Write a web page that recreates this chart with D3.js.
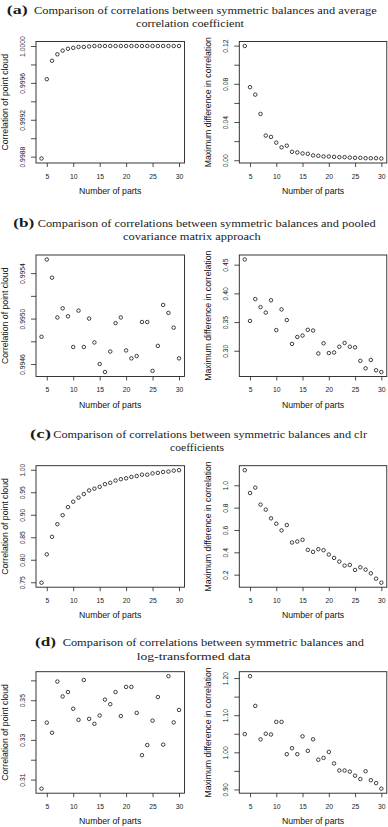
<!DOCTYPE html>
<html lang="en">
<head>
    <meta charset="UTF-8">
    <title>Comparison of correlations between symmetric balances</title>
    <script src="https://d3js.org/d3.v7.min.js"></script>
    <style>
        body { margin: 0; background: #fff; }
        svg { display: block; }
        .tick text { font-family: "Liberation Sans", Arial, sans-serif; font-size: 6.8px; fill: #222; }
        .axis-title { font-family: "Liberation Sans", Arial, sans-serif; font-size: 8.7px; fill: #111; }
        .title { font-family: "Liberation Serif", "Times New Roman", serif; fill: #1a1a1a; }
    </style>
</head>
<body>
    <svg id="chart" width="388" height="827"></svg>

    <script>
        // number of parts (x axis, same for every panel)
        let parts = [4, 5, 6, 7, 8, 9, 10, 11, 12, 13, 14, 15, 16, 17, 18, 19, 20, 21, 22, 23, 24, 25, 26, 27, 28, 29, 30];
        let xTicks = [5, 10, 15, 20, 25, 30];

        // (a) average correlation coefficient
        let corrAvg = [0.99878, 0.99964, 0.99984, 0.99991, 0.99995, 0.99997, 0.99998, 0.99999, 0.99999, 0.999995, 1.0, 1.0, 1.0, 1.0, 1.0, 1.0, 1.0, 1.0, 1.0, 1.0, 1.0, 1.0, 1.0, 1.0, 1.0, 1.0, 1.0];
        let maxDiffAvg = [0.1196, 0.0765, 0.0687, 0.0485, 0.0258, 0.0244, 0.0184, 0.0135, 0.0152, 0.0088, 0.0081, 0.0071, 0.0067, 0.0050, 0.0046, 0.0039, 0.0039, 0.0035, 0.0032, 0.0032, 0.0028, 0.0025, 0.0025, 0.0021, 0.0021, 0.0021, 0.0018];

        // (b) pooled covariance matrix approach
        let corrPooled = [0.99484, 0.99552, 0.99536, 0.99501, 0.99509, 0.99502, 0.99475, 0.99507, 0.99475, 0.99500, 0.99479, 0.99460, 0.99453, 0.99471, 0.99496, 0.99501, 0.99472, 0.99465, 0.99467, 0.99497, 0.99497, 0.99454, 0.99476, 0.99512, 0.99505, 0.99492, 0.99465];
        let maxDiffPooled = [0.459, 0.352, 0.390, 0.376, 0.3665, 0.388, 0.336, 0.372, 0.3535, 0.312, 0.324, 0.3265, 0.3365, 0.3353, 0.2953, 0.313, 0.296, 0.297, 0.307, 0.3136, 0.307, 0.306, 0.2824, 0.2694, 0.284, 0.266, 0.263];

        // (c) clr coefficients
        let corrClr = [0.749, 0.812, 0.851, 0.879, 0.899, 0.917, 0.929, 0.938, 0.946, 0.954, 0.958, 0.962, 0.968, 0.971, 0.976, 0.979, 0.981, 0.984, 0.986, 0.989, 0.989, 0.992, 0.993, 0.995, 0.996, 0.998, 0.999];
        let maxDiffClr = [1.135, 0.931, 0.979, 0.827, 0.782, 0.704, 0.656, 0.596, 0.644, 0.488, 0.497, 0.512, 0.422, 0.404, 0.428, 0.419, 0.380, 0.350, 0.317, 0.281, 0.287, 0.242, 0.266, 0.245, 0.212, 0.164, 0.128];

        // (d) log-transformed data
        let corrLog = [0.3054, 0.3387, 0.3336, 0.3594, 0.3519, 0.3541, 0.3457, 0.3401, 0.3602, 0.3406, 0.3381, 0.3423, 0.3503, 0.3480, 0.3541, 0.3420, 0.3567, 0.3567, 0.3436, 0.3223, 0.3274, 0.3397, 0.3516, 0.3276, 0.3621, 0.3388, 0.3451];
        let maxDiffLog = [1.049, 1.205, 1.125, 1.035, 1.050, 1.048, 1.082, 1.082, 0.995, 1.011, 0.995, 1.043, 1.004, 1.035, 0.980, 0.985, 1.001, 0.970, 0.951, 0.951, 0.948, 0.937, 0.928, 0.949, 0.925, 0.917, 0.902];

        // y tick marks and the ones that carry a label (R drops overlapping labels)
        let ticksCorrAvg = [0.9988, 0.9990, 0.9992, 0.9994, 0.9996, 0.9998, 1.0000];
        let labelsCorrAvg = [0.9988, 0.9992, 0.9996, 1.0000];
        let ticksDiffAvg = [0.00, 0.02, 0.04, 0.06, 0.08, 0.10, 0.12];
        let labelsDiffAvg = [0.00, 0.04, 0.08, 0.12];
        let ticksCorrPooled = [0.9946, 0.9948, 0.9950, 0.9952, 0.9954];
        let labelsCorrPooled = [0.9946, 0.9950, 0.9954];
        let ticksDiffPooled = [0.30, 0.35, 0.40, 0.45];
        let ticksCorrClr = [0.75, 0.80, 0.85, 0.90, 0.95, 1.00];
        let ticksDiffClr = [0.2, 0.4, 0.6, 0.8, 1.0];
        let ticksCorrLog = [0.31, 0.32, 0.33, 0.34, 0.35, 0.36];
        let labelsCorrLog = [0.31, 0.33, 0.35];
        let ticksDiffLog = [0.90, 0.95, 1.00, 1.05, 1.10, 1.15, 1.20];
        let labelsDiffLog = [0.90, 1.00, 1.10, 1.20];

        let labels = ["(a)", "(b)", "(c)", "(d)"];
        let titleLine1 = [
            "Comparison of correlations between symmetric balances and average",
            "Comparison of correlations between symmetric balances and pooled",
            "Comparison of correlations between symmetric balances and clr",
            "Comparison of correlations between symmetric balances and"
        ];
        let titleLine2 = ["correlation coefficient", "covariance matrix approach", "coefficients", "log-transformed data"];

        let rows = [
            { left: corrAvg, right: maxDiffAvg, lt: ticksCorrAvg, ll: labelsCorrAvg, lf: ".4f", rt: ticksDiffAvg, rl: labelsDiffAvg, rf: ".2f" },
            { left: corrPooled, right: maxDiffPooled, lt: ticksCorrPooled, ll: labelsCorrPooled, lf: ".4f", rt: ticksDiffPooled, rl: ticksDiffPooled, rf: ".2f" },
            { left: corrClr, right: maxDiffClr, lt: ticksCorrClr, ll: ticksCorrClr, lf: ".2f", rt: ticksDiffClr, rl: ticksDiffClr, rf: ".1f" },
            { left: corrLog, right: maxDiffLog, lt: ticksCorrLog, ll: labelsCorrLog, lf: ".2f", rt: ticksDiffLog, rl: labelsDiffLog, rf: ".2f" }
        ];

        // layout of each row (pixels)
        let layout = [
            { top: 41.5, b1: 14, b2: 27.3, lx: 6.7, m0: 34, m1: 376.7, s0: 136, s1: 244 },
            { top: 255, b1: 226.7, b2: 240, lx: 13.3, m0: 37.7, m1: 375.7, s0: 123, s1: 260.7 },
            { top: 465.7, b1: 437.5, b2: 450.7, lx: 30, m0: 53.3, m1: 367, s0: 170, s1: 224 },
            { top: 671.7, b1: 646, b2: 659.5, lx: 35, m0: 62.7, m1: 364, s0: 136.7, s1: 250.7 }
        ];
        let boxH = 121.5;
        let cols = [{ x0: 36, x1: 184.5, title: "Correlation of point cloud" },
                    { x0: 239.3, x1: 386.8, title: "Maximum difference in correlation" }];

        let svg = d3.select("#chart");

        // R style axis range: data range widened by 4% each side
        function padded(ext) {
            let d = (ext[1] - ext[0]) * 0.04;
            return [ext[0] - d, ext[1] + d];
        }

        rows.forEach((row, i) => {
            let L = layout[i];
            let bottom = L.top + boxH;

            // title
            svg.append("text").attr("class", "title")
                .attr("x", L.lx).attr("y", L.b1)
                .attr("font-size", 13.5).attr("font-weight", "bold")
                .attr("textLength", 21).attr("lengthAdjust", "spacingAndGlyphs")
                .text(labels[i]);
            svg.append("text").attr("class", "title")
                .attr("x", L.m0).attr("y", L.b1)
                .attr("font-size", 11.2)
                .attr("textLength", L.m1 - L.m0).attr("lengthAdjust", "spacingAndGlyphs")
                .text(titleLine1[i]);
            svg.append("text").attr("class", "title")
                .attr("x", L.s0).attr("y", L.b2)
                .attr("font-size", 11.2)
                .attr("textLength", L.s1 - L.s0).attr("lengthAdjust", "spacingAndGlyphs")
                .text(titleLine2[i]);

            let sides = [
                { values: row.left, ticks: row.lt, labeled: row.ll, fmt: d3.format(row.lf) },
                { values: row.right, ticks: row.rt, labeled: row.rl, fmt: d3.format(row.rf) }
            ];

            sides.forEach((s, j) => {
                let c = cols[j];
                let x = d3.scaleLinear().domain(padded(d3.extent(parts))).range([c.x0, c.x1]);
                let y = d3.scaleLinear().domain(padded(d3.extent(s.values))).range([bottom, L.top]);

                let g = svg.append("g");

                // x axis
                let xa = g.append("g")
                    .attr("transform", `translate(0,${bottom})`)
                    .call(d3.axisBottom(x).tickValues(xTicks).tickSize(4).tickPadding(4).tickSizeOuter(0));
                xa.select(".domain").remove();
                xa.selectAll("line").attr("stroke", "#222").attr("stroke-width", 0.8);
                xa.selectAll("text").attr("dy", 0).attr("y", 15.5);

                // y axis
                let ya = g.append("g")
                    .attr("transform", `translate(${c.x0},0)`)
                    .call(d3.axisLeft(y).tickValues(s.ticks).tickSize(5).tickSizeOuter(0)
                        .tickFormat(v => s.labeled.some(l => Math.abs(l - v) < 1e-9) ? s.fmt(v) : ""));
                ya.select(".domain").remove();
                ya.selectAll("line").attr("stroke", "#222").attr("stroke-width", 0.8);
                ya.selectAll("text")
                    .attr("x", 0).attr("y", 0).attr("dy", 0)
                    .attr("text-anchor", "middle")
                    .attr("transform", "translate(-11,0) rotate(-90)");

                // plot box
                g.append("rect")
                    .attr("x", c.x0).attr("y", L.top)
                    .attr("width", c.x1 - c.x0).attr("height", boxH)
                    .attr("fill", "none").attr("stroke", "#222").attr("stroke-width", 0.9);

                // points
                g.selectAll(".pt")
                    .data(s.values)
                    .enter().append("circle")
                    .attr("class", "pt")
                    .attr("cx", (d, k) => x(parts[k]))
                    .attr("cy", d => y(d))
                    .attr("r", 1.75)
                    .attr("fill", "none")
                    .attr("stroke", "#111")
                    .attr("stroke-width", 0.8);

                // axis titles
                g.append("text").attr("class", "axis-title")
                    .attr("x", (c.x0 + c.x1) / 2).attr("y", bottom + 31)
                    .attr("text-anchor", "middle")
                    .text("Number of parts");
                g.append("text").attr("class", "axis-title")
                    .attr("transform", `translate(${c.x0 - 28.5},${(L.top + bottom) / 2}) rotate(-90)`)
                    .attr("text-anchor", "middle")
                    .text(c.title);
            });
        });
    </script>
</body>
</html>
